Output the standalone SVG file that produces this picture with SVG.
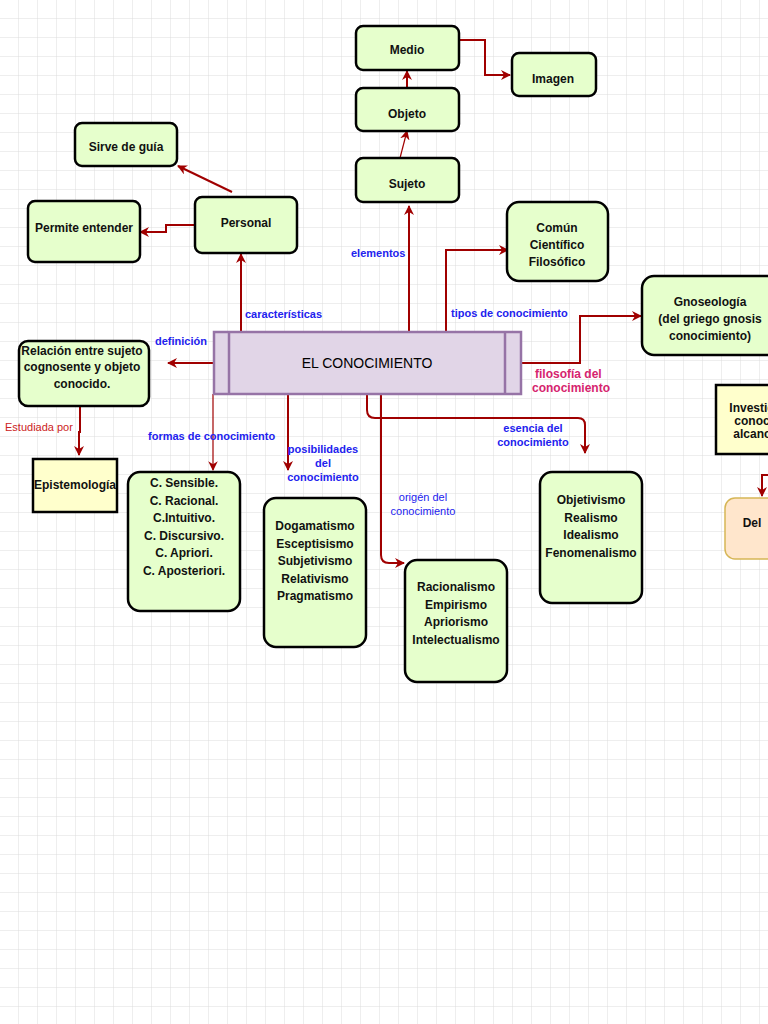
<svg xmlns="http://www.w3.org/2000/svg" width="768" height="1024" viewBox="0 0 768 1024">
<defs>
<pattern id="g" width="19" height="19" patternUnits="userSpaceOnUse"><path d="M19 0V19H0" fill="none" stroke="#dcdcdc" stroke-width="1"/></pattern>
<marker id="a" viewBox="0 0 10 10" refX="9" refY="5" markerWidth="5" markerHeight="5" orient="auto"><path d="M0 0L10 5L0 10L3 5z" fill="#a00000"/></marker>
<marker id="a2" viewBox="0 0 10 10" refX="9" refY="5" markerWidth="8" markerHeight="8" orient="auto"><path d="M0 0L10 5L0 10L3 5z" fill="#a00000"/></marker>
<style>
.n{fill:#e6ffcc;stroke:#000;stroke-width:2.5}
.y{fill:#ffffcc;stroke:#000;stroke-width:2.5}
.t{font-family:"Liberation Sans",Arial,sans-serif;font-weight:bold;font-size:12px;text-anchor:middle;fill:#111}
.b{font-family:"Liberation Sans",Arial,sans-serif;font-weight:bold;font-size:11px;fill:#2222ee}
.p{font-family:"Liberation Sans",Arial,sans-serif;font-weight:bold;font-size:12px;fill:#d6246e}
.c{fill:none;stroke:#a00000;stroke-width:2;marker-end:url(#a)}
.c1{fill:none;stroke:#a00000;stroke-width:1.2;marker-end:url(#a2)}
</style>
</defs>
<rect width="768" height="1024" fill="#fff"/>
<rect width="768" height="1024" fill="url(#g)"/>
<g id="connectors">
<path class="c" d="M407 40H485V75H510"/>
<path class="c" d="M407 87V71"/>
<path class="c1" d="M400 158L407 131"/>
<path class="c" d="M409 332V206"/>
<path class="c" d="M241 332V254"/>
<path class="c" d="M232 192L178 166"/>
<path class="c" d="M195 225H166V232H140"/>
<path class="c" d="M213 363H168"/>
<path class="c" d="M80 406V432H79V455"/>
<path class="c" d="M446 332V250H508"/>
<path class="c" d="M521 363H580V316H641"/>
<path class="c1" d="M213 394V470"/>
<path class="c" d="M288 394V470"/>
<path class="c" d="M367 394V410Q367 418 375 418H578Q585 418 585 425V453"/>
<path class="c" d="M381 394V555Q381 563 389 563H404"/>
<path class="c" d="M768 475H762V496"/>
</g>
<g id="central"><rect x="214" y="332" width="307" height="62" fill="#e1d5e7" stroke="#9673a6" stroke-width="2.5"/><path d="M229 332V394M505 332V394" stroke="#9673a6" stroke-width="2.5"/><text x="367" y="368" font-family="'Liberation Sans',sans-serif" font-size="14" text-anchor="middle">EL CONOCIMIENTO</text></g>
<g id="medio"><rect class="n" x="356" y="26" width="103" height="44" rx="7"/><text class="t" x="407" y="54" font-size="11">Medio</text></g>
<g id="imagen"><rect class="n" x="512" y="53" width="84" height="43" rx="7"/><text class="t" x="553" y="83">Imagen</text></g>
<g id="objeto"><rect class="n" x="356" y="88" width="103" height="43" rx="7"/><text class="t" x="407" y="118">Objeto</text></g>
<g id="sujeto"><rect class="n" x="356" y="158" width="103" height="44" rx="7"/><text class="t" x="407" y="188">Sujeto</text></g>
<g id="guia"><rect class="n" x="75" y="123" width="102" height="43" rx="7"/><text class="t" x="126" y="151" font-size="11">Sirve de guía</text></g>
<g id="personal"><rect class="n" x="195" y="197" width="102" height="56" rx="7"/><text class="t" x="246" y="227">Personal</text></g>
<g id="entender"><rect class="n" x="28" y="201" width="112" height="61" rx="7"/><text class="t" x="84" y="232">Permite entender</text></g>
<g id="comun"><rect class="n" x="507" y="202" width="101" height="79" rx="12"/><text class="t" x="557" y="232">Común<tspan x="557" dy="17">Científico</tspan><tspan x="557" dy="17">Filosófico</tspan></text></g>
<g id="gnoseologia"><rect class="n" x="642" y="276" width="140" height="79" rx="12"/><text class="t" x="710" y="306">Gnoseología<tspan x="710" dy="17">(del griego gnosis</tspan><tspan x="710" dy="17">conocimiento)</tspan></text></g>
<g id="relacion"><rect class="n" x="19" y="341" width="130" height="65" rx="9"/><text class="t" x="82" y="355">Relación entre sujeto<tspan x="82" dy="16">cognosente y objeto</tspan><tspan x="82" dy="17">conocido.</tspan></text></g>
<g id="epistemologia"><rect class="y" x="33" y="459" width="84" height="53"/><text class="t" x="75" y="489" font-size="11">Epistemología</text></g>
<g id="formas"><rect class="n" x="128" y="472" width="112" height="139" rx="12"/><text class="t" x="184" y="487" font-size="13">C. Sensible.<tspan x="184" dy="17.5">C. Racional.</tspan><tspan x="184" dy="17.5">C.Intuitivo.</tspan><tspan x="184" dy="17.5">C. Discursivo.</tspan><tspan x="184" dy="17.5">C. Apriori.</tspan><tspan x="184" dy="17.5">C. Aposteriori.</tspan></text></g>
<g id="posib"><rect class="n" x="264" y="498" width="102" height="149" rx="12"/><text class="t" x="315" y="530">Dogamatismo<tspan x="315" dy="17.5">Esceptisismo</tspan><tspan x="315" dy="17.5">Subjetivismo</tspan><tspan x="315" dy="17.5">Relativismo</tspan><tspan x="315" dy="17.5">Pragmatismo</tspan></text></g>
<g id="origen"><rect class="n" x="405" y="560" width="102" height="122" rx="12"/><text class="t" x="456" y="591">Racionalismo<tspan x="456" dy="17.5">Empirismo</tspan><tspan x="456" dy="17.5">Apriorismo</tspan><tspan x="456" dy="17.5">Intelectualismo</tspan></text></g>
<g id="esencia"><rect class="n" x="540" y="472" width="102" height="131" rx="12"/><text class="t" x="591" y="504">Objetivismo<tspan x="591" dy="17.5">Realismo</tspan><tspan x="591" dy="17.5">Idealismo</tspan><tspan x="591" dy="17.5">Fenomenalismo</tspan></text></g>
<g id="investig"><rect class="y" x="716" y="385" width="70" height="69"/><text class="t" x="752" y="412" font-size="11">Investig<tspan x="752" dy="13">conoc</tspan><tspan x="752" dy="13">alcanc</tspan></text></g>
<g id="del"><rect x="725" y="498" width="70" height="61" rx="10" fill="#ffe6cc" stroke="#d6b656" stroke-width="1.5"/><text class="t" x="752" y="527" font-size="11">Del</text></g>
<g id="labels">
<text class="b" x="351" y="257">elementos</text>
<text class="b" x="245" y="318">características</text>
<text class="b" x="155" y="345" font-size="12">definición</text>
<text class="b" x="451" y="317">tipos de conocimiento</text>
<text class="p" x="535" y="378">filosofía del</text>
<text class="p" x="532" y="392">conocimiento</text>
<text x="5" y="431" font-family="'Liberation Sans',sans-serif" font-size="11" fill="#cc2222">Estudiada por</text>
<text class="b" x="148" y="440">formas de conocimiento</text>
<text class="b" x="323" y="453" text-anchor="middle">posibilidades<tspan x="323" dy="14">del</tspan><tspan x="323" dy="14">conocimiento</tspan></text>
<text class="b" x="533" y="432" text-anchor="middle">esencia del<tspan x="533" dy="14">conocimiento</tspan></text>
<text class="b" x="423" y="501" text-anchor="middle" style="font-weight:normal">origén del<tspan x="423" dy="14">conocimiento</tspan></text>
</g>
</svg>
